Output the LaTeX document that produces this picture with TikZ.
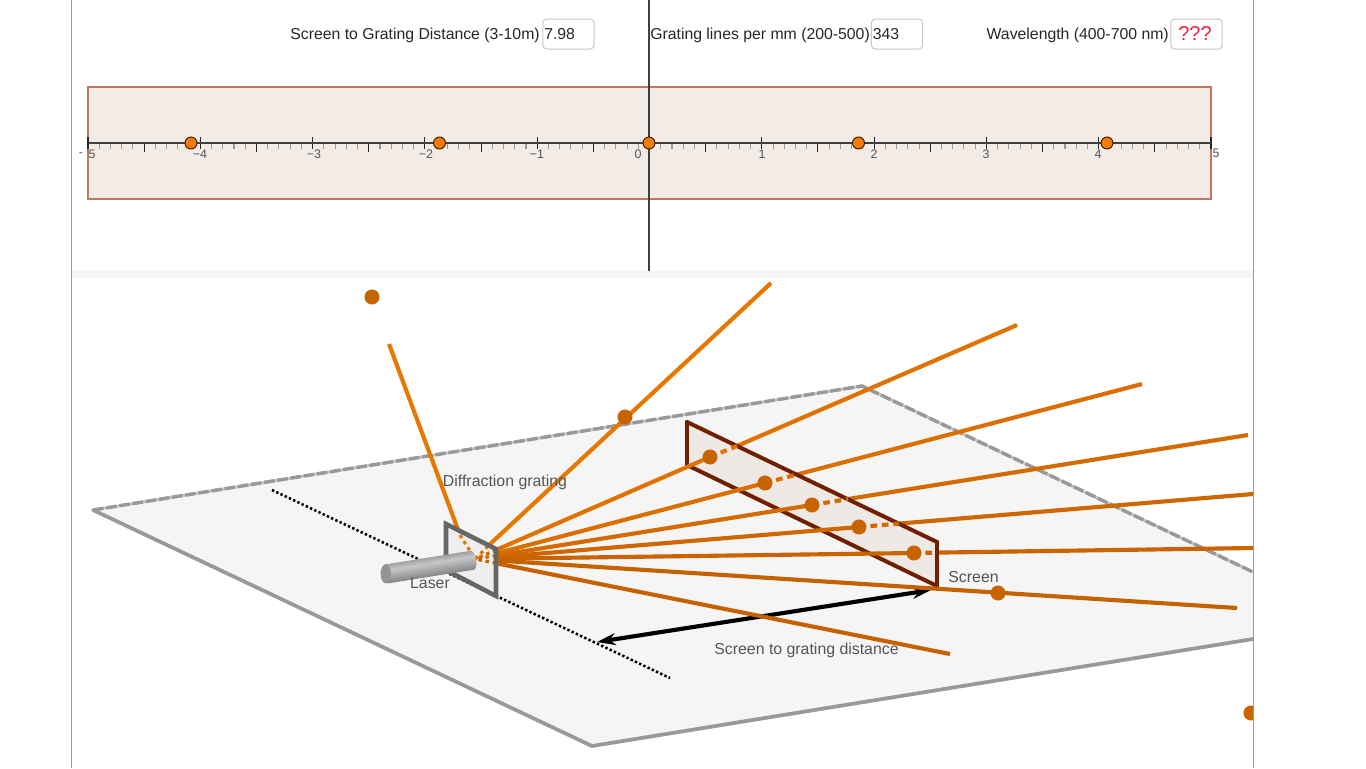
\documentclass[tikz,border=0pt]{standalone}
\usepackage{fontspec}
\setmainfont{Liberation Sans}
\usetikzlibrary{arrows.meta}
\definecolor{panelline}{HTML}{9A9A9A}
\definecolor{bandfill}{HTML}{F4F4F4}
\definecolor{slitfill}{HTML}{F3EBE6}
\definecolor{slitedge}{HTML}{BE7A60}
\definecolor{axisdot}{HTML}{F57C00}
\definecolor{planefill}{HTML}{F5F5F5}
\definecolor{planeedge}{HTML}{999999}
\definecolor{screenfill}{HTML}{EFE9E6}
\definecolor{screenedge}{HTML}{702000}
\definecolor{gratingedge}{HTML}{666666}
\definecolor{gratingfill}{HTML}{EEEEEE}
\definecolor{rayA}{HTML}{E67700}
\definecolor{rayB}{HTML}{E07300}
\definecolor{rayC}{HTML}{DA6F00}
\definecolor{rayD}{HTML}{D46B00}
\definecolor{rayE}{HTML}{CE6700}
\definecolor{rayF}{HTML}{C96400}
\definecolor{rayG}{HTML}{C46200}
\definecolor{spot}{HTML}{C86400}
\definecolor{labelgrey}{HTML}{555555}
\definecolor{inputline}{HTML}{C8C8C8}
\definecolor{qmark}{HTML}{F02040}
\tikzset{
  x=0.75pt,y=-0.75pt,
  pagetext/.style={inner sep=0pt,font=\fontsize{11.85}{14}\selectfont,text=black!85},
  inputbox/.style={draw=inputline,line width=0.75pt,rounded corners=3pt,minimum width=38.5pt,minimum height=22.5pt,inner sep=0pt},
  ticklabel/.style={inner sep=0pt,font=\fontsize{9.3}{10}\selectfont,text=labelgrey},
  scenelabel/.style={inner sep=0pt,font=\fontsize{11.9}{13}\selectfont,text=labelgrey},
  axisspot/.style={circle,draw=black!80!orange,fill=axisdot,line width=0.7pt,minimum size=9pt,inner sep=0pt},
  rayspot/.style={circle,fill=spot,minimum size=11.3pt,inner sep=0pt},
  raysolid/.style={line width=3.1pt},
  raydash/.style={line width=3.1pt,dash pattern=on 5pt off 3.6pt},
  gratedash/.style={line width=2.4pt,dash pattern=on 2.6pt off 2.8pt},
  frame/.style={draw=screenedge,line width=3pt,line cap=round},
  gframe/.style={draw=gratingedge,line width=3.4pt,line join=miter}
}
\begin{document}
\begin{tikzpicture}
\useasboundingbox[fill=white] (0,0) rectangle (1366,768);

% ---- upper panel ----
\fill[bandfill] (72,271) rectangle (1253,278);
\node[pagetext,anchor=east] (lblA) at (540,35) {Screen to Grating Distance (3-10m)};
\node[inputbox] (boxA) at (568.5,34) {};
\node[pagetext,anchor=west] (valA) at (544,34) {7.98};
\node[pagetext,anchor=west] (lblB) at (650,35) {Grating lines per mm (200-500)};
\node[inputbox] (boxB) at (897,34) {};
\node[pagetext,anchor=west] (valB) at (872.5,34) {343};
\node[pagetext,anchor=east] (lblC) at (1169,35) {Wavelength (400-700 nm)};
\node[inputbox] (boxC) at (1196.5,34) {};
\node[inputbox,draw=none,text=qmark,font=\fontsize{15}{17}\selectfont] (valC) at (1195,34) {???};

\draw[slitedge,fill=slitfill,line width=2.2pt] (88,87) rectangle (1211,199);
\coordinate (axL) at (88,143);
\coordinate (axR) at (1211,143);
\foreach \i in {-50,...,50}{
  \pgfmathsetmacro{\xx}{649.5+11.23*\i}
  \draw[black!40,line width=0.8pt] (\xx,143) -- (\xx,149);
}
\foreach \i in {-4.5,-3.5,...,4.5}{
  \pgfmathsetmacro{\xx}{649.5+112.3*\i}
  \draw[black!85,line width=0.8pt] (\xx,143) -- (\xx,152);
}
\foreach \i in {-5,...,5}{
  \pgfmathsetmacro{\xx}{649.5+112.3*\i}
  \draw[black!85,line width=0.8pt] (\xx,137) -- (\xx,149);
}
\draw[black!75,line width=0.9pt] (axL) -- (axR);
\node[ticklabel] (tm5a) at (81,154.5) {-};
\node[ticklabel] (tm5) at (92,154.5) {5};
\node[ticklabel] (tm4) at (200,154.5) {−4};
\node[ticklabel] (tm3) at (314,154.5) {−3};
\node[ticklabel] (tm2) at (426,154.5) {−2};
\node[ticklabel] (tm1) at (537,154.5) {−1};
\node[ticklabel] (t0) at (638,154.5) {0};
\node[ticklabel] (t1) at (762,154.5) {1};
\node[ticklabel] (t2) at (874,154.5) {2};
\node[ticklabel] (t3) at (986,154.5) {3};
\node[ticklabel] (t4) at (1098,154.5) {4};
\node[ticklabel] (t5) at (1216,153.5) {5};
\node[axisspot] (sA) at (191,143) {};
\node[axisspot] (sB) at (439.5,143) {};
\node[axisspot] (sD) at (858.5,143) {};
\node[axisspot] (sE) at (1107,143) {};

% ---- lower panel ----
\begin{scope}
\clip (72,278) rectangle (1253,768);
% floor
\fill[planefill] (93,510) -- (862,386) -- (1253,572) -- (1253,639) -- (592,746) -- cycle;
\draw[planeedge,line width=2.8pt,line cap=round] (93,510) -- (592,746) -- (1253,639);
\draw[planeedge!60,line width=2pt] (93,510) -- (862,386) -- (1253,572);
\draw[planeedge,line width=2.6pt,dash pattern=on 8pt off 2pt] (93,510) -- (862,386) -- (1253,572);
% dotted grating line
\coordinate (dotA) at (272,490);
\coordinate (dotB) at (670,678);
\draw[black,line width=1.9pt,dash pattern=on 1.8pt off 1.7pt] (dotA) -- (dotB);

% named ray points
\coordinate (origin) at (475,559);
\coordinate (endA) at (389,344);
\coordinate (gateA) at (460,535);
\coordinate (endB) at (771,283);
\coordinate (gateB) at (488,546);
\coordinate (endC) at (1017,325);
\coordinate (gateC) at (496,550);
\coordinate (edgeC) at (737,446);
\coordinate (endD) at (1142,384);
\coordinate (gateD) at (496,553.5);
\coordinate (edgeD) at (797,474.5);
\coordinate (endE) at (1248,435);
\coordinate (gateE) at (496,555.6);
\coordinate (edgeE) at (848,499);
\coordinate (endF) at (1253,494);
\coordinate (gateF) at (496,557.2);
\coordinate (edgeF) at (899,523.6);
\coordinate (endG) at (1253,548);
\coordinate (gateG) at (496,558.7);
\coordinate (edgeG) at (937,552.6);
\coordinate (endH) at (1237,608);
\coordinate (gateH) at (496,560.4);
\coordinate (endI) at (950,654);
\coordinate (gateI) at (496,563.2);

\coordinate (cB) at (625,417);
\coordinate (cC) at (710,457);
\coordinate (cD) at (765,483);
\coordinate (cE) at (812,505);
\coordinate (cF) at (859,527);
\coordinate (cG) at (914,553);
\coordinate (cH) at (998,593);

% parts of rays that run behind the screen
\draw[rayB,raysolid] (edgeC) -- (endC);
\draw[rayC,raysolid] (edgeD) -- (endD);
\draw[rayD,raysolid] (edgeE) -- (endE);
\draw[rayE,raysolid] (edgeF) -- (endF);
\draw[rayF,raysolid] (edgeG) -- (endG);

% screen
\coordinate (scA) at (687,422);
\coordinate (scB) at (937,542);
\coordinate (scC) at (937,586);
\coordinate (scD) at (687,465);
\fill[screenfill] (scA) -- (scB) -- (scC) -- (scD) -- cycle;
\draw[frame] (scD) -- (scC);
\draw[frame] (scA) -- (scB);
\draw[frame] (scB) -- (scC);
\draw[frame,dash pattern=on 5pt off 1.2pt] (scA) -- (scD);

% arrow
\coordinate (arA) at (597,642);
\coordinate (arB) at (931,590);
\draw[black,line width=3.1pt,{Stealth[length=14pt,width=9pt]}-{Stealth[length=14pt,width=9pt]}] (arA) -- (arB);

% rays in front
\draw[rayA,raysolid] (endA) -- (gateA);
\draw[rayA,raysolid] (gateB) -- (endB);
\draw[rayB,raysolid] (gateC) -- (cC);
\draw[rayC,raysolid] (gateD) -- (cD);
\draw[rayD,raysolid] (gateE) -- (cE);
\draw[rayE,raysolid] (gateF) -- (cF);
\draw[rayF,raysolid] (gateG) -- (cG);
\draw[rayG,raysolid] (gateH) -- (endH);
\draw[rayG,raysolid] (gateI) -- (endI);
\draw[rayB,raydash] (cC) -- (edgeC);
\draw[rayC,raydash] (cD) -- (edgeD);
\draw[rayD,raydash] (cE) -- (edgeE);
\draw[rayE,raydash] (cF) -- (edgeF);
\draw[rayF,raydash] (cG) -- (edgeG);

% grating
\coordinate (grA) at (446,524);
\coordinate (grB) at (496,549);
\coordinate (grC) at (496,596);
\coordinate (grD) at (446,570);
\fill[gratingfill] (grA) -- (grB) -- (grC) -- (grD) -- cycle;
\draw[rayA,gratedash] (gateA) -- (origin);
\draw[rayB,gratedash] (gateB) -- (origin);
\draw[rayD,gratedash] (gateC) -- (origin);
\draw[rayE,gratedash] (gateE) -- (origin);
\draw[rayG,gratedash] (gateI) -- (origin);
\draw[gframe] (grD) -- (grC) -- (grB) -- (grA) -- (grD);

% spots
\node[rayspot,fill=rayA!85!black] (dotSpotA) at (372,297) {};
\node[rayspot] (spotB) at (cB) {};
\node[rayspot] (spotC) at (cC) {};
\node[rayspot] (spotD) at (cD) {};
\node[rayspot] (spotE) at (cE) {};
\node[rayspot] (spotF) at (cF) {};
\node[rayspot] (spotG) at (cG) {};
\node[rayspot] (spotH) at (cH) {};
\node[rayspot] (spotI) at (1251,713) {};

% laser: a stack of thin strips along the cylinder's axis
\foreach \t in {-9,-8.25,...,9}{
  \pgfmathsetmacro{\lx}{386+0.156*\t}
  \pgfmathsetmacro{\ly}{574+0.988*\t}
  \pgfmathsetmacro{\rx}{472+4*sqrt(max(0,1-(\t/9.4)^2))+0.156*\t}
  \pgfmathsetmacro{\ry}{560.3+0.988*\t-0.63*sqrt(max(0,1-(\t/9.4)^2))}
  \pgfmathsetmacro{\pct}{\t<-3 ? 22+(-3-\t)*2.6 : 22+(\t+3)*2.0}
  \draw[black!\pct,line width=0.85pt] (\lx,\ly) -- (\rx,\ry);
}
\fill[black!42] (385.8,573.8) ellipse (5.2 and 9.6);

% scene labels
\node[scenelabel] (lblGrating) at (505,482) {Diffraction grating};
\node[scenelabel] (lblLaser) at (430,583) {Laser};
\node[scenelabel] (lblScreen) at (973.5,577) {Screen};
\node[scenelabel] (lblDist) at (806.5,650) {Screen to grating distance};
\end{scope}

% panel frame
\coordinate (fA) at (71.5,0);
\coordinate (fB) at (71.5,768);
\coordinate (fC) at (1253.5,0);
\coordinate (fD) at (1253.5,768);
\coordinate (fE) at (649,0);
\coordinate (fF) at (649,271);
\draw[panelline,line width=0.8pt] (fA) -- (fB);
\draw[panelline,line width=0.8pt] (fC) -- (fD);
\draw[black!75,line width=0.8pt] (fE) -- (fF);
\node[axisspot] (sC) at (649,143) {};
\end{tikzpicture}
\end{document}
